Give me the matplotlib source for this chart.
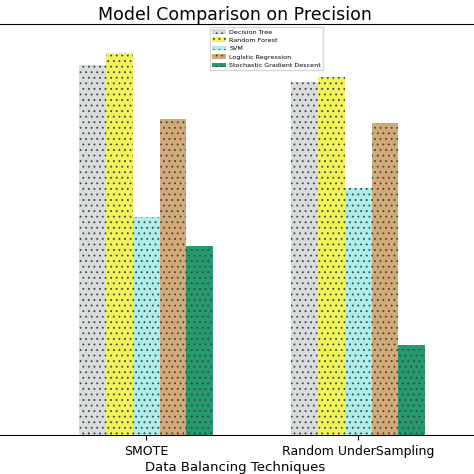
import matplotlib
matplotlib.use("Agg")
import matplotlib.pyplot as plt
import numpy as np

groups = ["SMOTE", "Random UnderSampling"]
models = ["Decision Tree", "Random Forest", "SVM", "Logistic Regression", "Stochastic Gradient Descent"]
values = {
    "Decision Tree": [0.90, 0.86],
    "Random Forest": [0.93, 0.87],
    "SVM": [0.53, 0.60],
    "Logistic Regression": [0.77, 0.76],
    "Stochastic Gradient Descent": [0.46, 0.22],
}
colors = ["#d8dcdc", "#f2f25a", "#aeeeea", "#d2aa78", "#259a6c"]

plt.rcParams['hatch.linewidth'] = 0.6
fig = plt.figure(figsize=(4.74, 4.74), dpi=100)
ax = fig.add_axes([-50/474, 1-435/474, 570/474, (435-24)/474])
x = np.arange(len(groups))
w = 0.127
for i, m in enumerate(models):
    ax.bar(x + (i-2)*w, values[m], w, color=colors[i], hatch="...", edgecolor="#444444",
           linewidth=0, label=m)
ax.set_xlim(-0.925, 1.764)
ax.set_ylim(0, 1)
ax.set_yticks([])
ax.set_xticks(x)
ax.set_xticklabels(groups, fontsize=9)
ax.set_xlabel("Data Balancing Techniques", fontsize=9.5, labelpad=2)
ax.set_title("Model Comparison on Precision", fontsize=12.5, pad=3)
ax.legend(loc="upper center", bbox_to_anchor=(0.555, 1.0), fontsize=4.6, handlelength=2.2,
          borderpad=0.3, labelspacing=0.45, handletextpad=0.6)
fig.savefig("out.png", dpi=100)
